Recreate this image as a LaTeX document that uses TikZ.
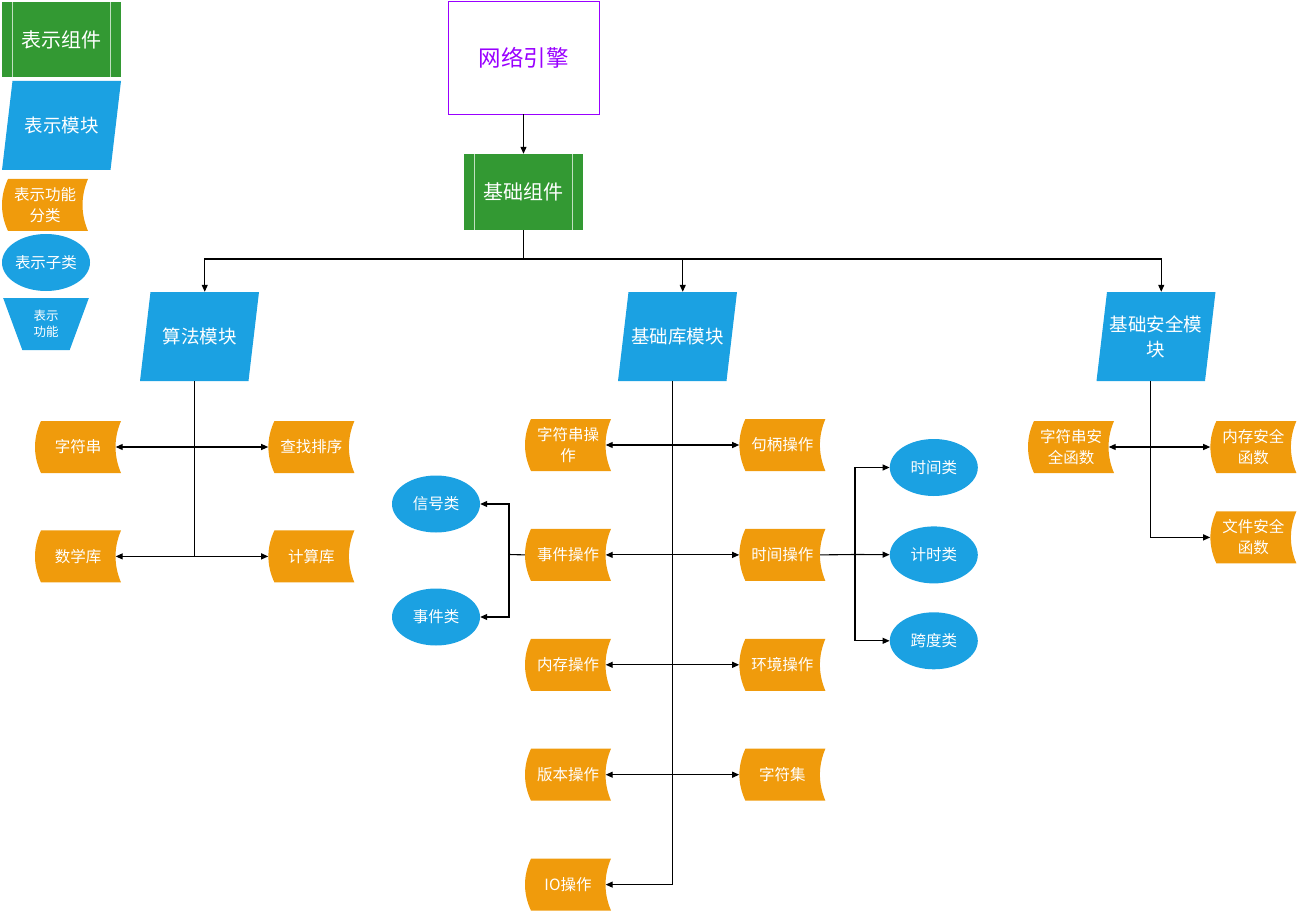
\documentclass[tikz,border=0pt]{standalone}
\usepackage{fontspec}
\setmainfont{Noto Sans CJK SC}
\usetikzlibrary{arrows.meta,positioning,shapes.geometric}
\definecolor{zgreen}{HTML}{339933}
\definecolor{zblue}{HTML}{1BA1E2}
\definecolor{zorange}{HTML}{F09B0C}
\definecolor{zpurple}{HTML}{9900FF}

\begin{document}
\begin{tikzpicture}[x=1pt,y=-1pt,>={Triangle[length=7pt,width=6pt]},
  comp/.style={minimum width=119pt,minimum height=76pt,fill=zgreen,text=white,font=\fontsize{20}{24}\selectfont,
    path picture={\draw[white,opacity=.7,line width=.9pt]
      ([xshift=10.7pt]path picture bounding box.north west) -- ([xshift=10.7pt]path picture bounding box.south west)
      ([xshift=-10.7pt]path picture bounding box.north east) -- ([xshift=-10.7pt]path picture bounding box.south east);}},
  modu/.style={minimum width=119pt,minimum height=89pt,inner sep=0pt,text=white,align=center,
    font=\fontsize{18.5}{25}\selectfont,
    path picture={\fill[zblue] ([xshift=10.5pt]path picture bounding box.north west)
      -- (path picture bounding box.north east)
      -- ([xshift=-10.5pt]path picture bounding box.south east)
      -- (path picture bounding box.south west) -- cycle;}},
  func/.style={minimum width=86pt,minimum height=52pt,inner sep=0pt,text=white,align=center,
    font=\fontsize{15.5}{21}\selectfont,
    path picture={\fill[zorange] ([xshift=6pt]path picture bounding box.north west)
      -- (path picture bounding box.north east)
      .. controls ([xshift=-7.3pt,yshift=-17pt]path picture bounding box.north east)
      and ([xshift=-7.3pt,yshift=17pt]path picture bounding box.south east) .. (path picture bounding box.south east)
      -- ([xshift=6pt]path picture bounding box.south west)
      .. controls ([xshift=-2pt,yshift=17pt]path picture bounding box.south west)
      and ([xshift=-2pt,yshift=-17pt]path picture bounding box.north west) .. ([xshift=6pt]path picture bounding box.north west)
      -- cycle;}},
  subc/.style={ellipse,minimum width=88pt,minimum height=57pt,inner sep=0pt,fill=zblue,text=white,
    font=\fontsize{15.5}{19}\selectfont},
  feat/.style={trapezium,trapezium left angle=70,trapezium right angle=70,shape border rotate=180,
    trapezium stretches=true,minimum width=86pt,minimum height=52pt,inner sep=1pt,fill=zblue,text=white,
    align=center,font=\fontsize{12.5}{16.5}\selectfont},
  line/.style={line width=1.1pt}]
\useasboundingbox (0,0) rectangle (1299,912);

\node[comp,minimum height=75pt] (lcomp) at (61.5,39.5) {表示组件};
\node[modu] (lmodu) at (61.5,125.5) {表示模块};
\node[func] (lfunc) at (45,205) {表示功能\\分类};
\node[subc] (lsubc) at (46,262.5) {表示子类};
\node[feat] (lfeat) at (46,324) {表示\\功能};

\node[draw=zpurple,line width=.8pt,minimum width=151pt,minimum height=113pt,text=zpurple,font=\fontsize{22.5}{27}\selectfont] (engine) at (523.5,57.5) {网络引擎};
\node[comp] (base) at (523.5,192) {基础组件};
\node[modu] (algo) at (199.5,336.5) {算法模块};
\node[modu] (libm) at (677.5,336.5) {基础库模块};
\node[modu] (secm) at (1156,336.5) {基础安全模\\块};
\coordinate (bus) at (523.5,259);

\node[func] (zfc) at (78,447) {字符串};
\node[func] [right = 147pt of zfc] (czpx) {查找排序};
\node[func] [below = 57pt of zfc] (sxk) {数学库};
\node[func] [right = 147pt of sxk] (jsk) {计算库};

\node[func] (zfccz) at (568,445) {字符串操\\作};
\node[func] [right = 128pt of zfccz] (jbcz) {句柄操作};
\node[func] [below = 57.5pt of zfccz] (sjcz) {事件操作};
\node[func] [right = 128pt of sjcz] (shcz) {时间操作};
\node[func] [below = 57.5pt of sjcz] (nccz) {内存操作};
\node[func] [right = 128pt of nccz] (hjcz) {环境操作};
\node[func] [below = 57.5pt of nccz] (bbcz) {版本操作};
\node[func] [right = 128pt of bbcz] (zfj) {字符集};
\node[func] [below = 57.5pt of bbcz] (iocz) {IO操作};

\node[subc] (xhl) at (436,504) {信号类};
\node[subc] (sjl) at (436,617) {事件类};
\coordinate (ej) at (509,554.5);
\node[subc] [right = 64pt of shcz] (jsl) {计时类};
\node[subc] [above = 30pt of jsl] (shjl) {时间类};
\node[subc] [below = 28.5pt of jsl] (kdl) {跨度类};
\coordinate (tj) at (855,554.5);

\node[func] (zfcaq) at (1071,447) {字符串安\\全函数};
\node[func] [right = 96pt of zfcaq] (ncaq) {内存安全\\函数};
\node[func] [below = 38pt of ncaq] (wjaq) {文件安全\\函数};

\draw[line,->] (engine) -- (base);
\draw[line] (base) -- (bus);
\draw[line,->] (bus) -| ([xshift=5.25pt]algo.north);
\draw[line,->] (bus) -| ([xshift=5.25pt]libm.north);
\draw[line,->] (bus) -| ([xshift=5.25pt]secm.north);

\draw[line] ([xshift=-5.25pt]algo.south) -- ([xshift=-5.25pt]algo.south |- sxk);
\draw[line,<->] ([xshift=-5.5pt]zfc.east) -- (czpx.west);
\draw[line,<->] ([xshift=-5.5pt]sxk.east) -- (jsk.west);

\draw[line,->] ([xshift=-5.25pt]libm.south) |- ([xshift=-5.5pt]iocz.east);
\draw[line,<->] ([xshift=-5.5pt]zfccz.east) -- (jbcz.west);
\draw[line,<->] ([xshift=-5.5pt]sjcz.east) -- (shcz.west);
\draw[line,<->] ([xshift=-5.5pt]nccz.east) -- (hjcz.west);
\draw[line,<->] ([xshift=-5.5pt]bbcz.east) -- (zfj.west);

\draw[line] (sjcz.west) -- (ej);
\draw[line,->] (ej) |- (xhl);
\draw[line,->] (ej) |- (sjl);
\draw[line] ([xshift=-5.5pt]shcz.east) -- (tj);
\draw[line,->] (tj) |- (shjl);
\draw[line,->] (tj) -- (jsl);
\draw[line,->] (tj) |- (kdl);

\draw[line,->] ([xshift=-5.25pt]secm.south) |- (wjaq.west);
\draw[line,<->] ([xshift=-5.5pt]zfcaq.east) -- (ncaq.west);
\end{tikzpicture}
\end{document}
